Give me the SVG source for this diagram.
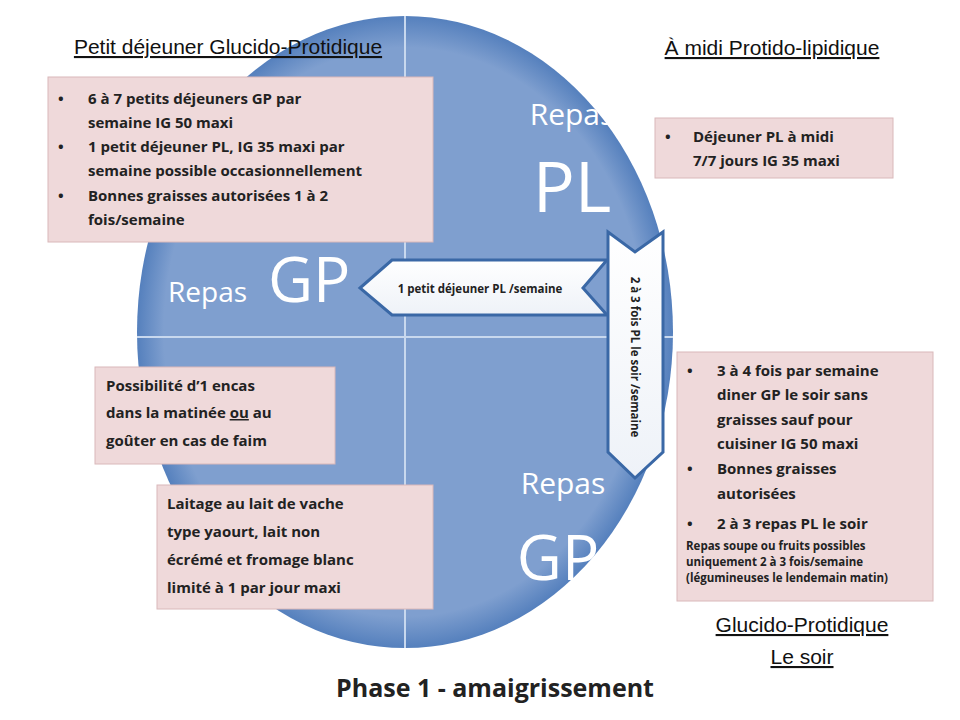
<svg xmlns="http://www.w3.org/2000/svg" width="960" height="720" viewBox="0 0 960 720">
<defs>
<radialGradient id="cg" cx="0.5" cy="0.5" r="0.5">
<stop offset="0" stop-color="#7f9fcf"/><stop offset="0.9" stop-color="#7f9fcf"/><stop offset="1" stop-color="#5580bd"/>
</radialGradient>
<linearGradient id="ag" x1="0" y1="0" x2="0" y2="1"><stop offset="0" stop-color="#ffffff"/><stop offset="1" stop-color="#eef2f8"/></linearGradient>
<style>
.box{fill:#efd9da;stroke:#d9b8ba;stroke-width:1}
.t{font-family:"Open Sans","Liberation Sans",sans-serif;font-weight:bold;fill:#222;font-size:15px}
.s{font-family:"Open Sans","Liberation Sans",sans-serif;font-weight:bold;fill:#222;font-size:11.5px}
.big{font-family:"Open Sans","Liberation Sans",sans-serif;fill:#fff}
.h{font-family:"Liberation Sans",sans-serif;font-size:21px;fill:#111;text-decoration:underline}
.arr{fill:url(#ag);stroke:#3a68a6;stroke-width:3}
</style>
</defs>
<rect width="960" height="720" fill="#fff"/>
<g id="circle">
<ellipse cx="405" cy="332" rx="268" ry="316" fill="url(#cg)"/>
<line x1="405" y1="16" x2="405" y2="648" stroke="#c8d8ee" stroke-width="2"/>
<line x1="137" y1="337" x2="673" y2="337" stroke="#c8d8ee" stroke-width="2"/>
</g>
<g id="titles">
<text class="h" x="228" y="54" text-anchor="middle">Petit déjeuner Glucido-Protidique</text>
<text class="h" x="772" y="55" text-anchor="middle">À midi Protido-lipidique</text>
<text class="h" x="802" y="632" text-anchor="middle">Glucido-Protidique</text>
<text class="h" x="802" y="664" text-anchor="middle">Le soir</text>
<text x="495" y="697" text-anchor="middle" font-family="'Open Sans','Liberation Sans',sans-serif" font-weight="bold" font-size="25" fill="#222">Phase 1 - amaigrissement</text>
</g>
<g id="box1">
<rect class="box" x="48" y="77" width="385" height="165"/>
<text class="t"><tspan x="58" y="104">•</tspan><tspan x="88" y="104">6 à 7 petits déjeuners  GP par</tspan><tspan x="88" y="128">semaine IG 50 maxi</tspan><tspan x="58" y="152">•</tspan><tspan x="88" y="152">1 petit déjeuner PL, IG 35 maxi par</tspan><tspan x="88" y="176">semaine possible occasionnellement</tspan><tspan x="58" y="201">•</tspan><tspan x="88" y="201">Bonnes graisses autorisées 1 à 2</tspan><tspan x="88" y="225">fois/semaine</tspan></text>
</g>
<g id="box2">
<rect class="box" x="655" y="118" width="238" height="60"/>
<text class="t"><tspan x="665" y="142">•</tspan><tspan x="693" y="142">Déjeuner  PL à midi</tspan><tspan x="693" y="166">7/7 jours  IG 35 maxi</tspan></text>
</g>
<g id="box3">
<rect class="box" x="677" y="352" width="256" height="249"/>
<text class="t"><tspan x="687" y="376">•</tspan><tspan x="717" y="376">3 à 4 fois par semaine</tspan><tspan x="717" y="400">diner GP le soir sans</tspan><tspan x="717" y="425">graisses sauf pour</tspan><tspan x="717" y="449">cuisiner IG 50 maxi</tspan><tspan x="687" y="474">•</tspan><tspan x="717" y="474">Bonnes graisses</tspan><tspan x="717" y="499">autorisées</tspan><tspan x="687" y="529">•</tspan><tspan x="717" y="529">2 à 3 repas PL le soir</tspan></text>
<text class="s"><tspan x="686" y="550">Repas soupe ou fruits possibles</tspan><tspan x="686" y="566">uniquement 2 à 3  fois/semaine</tspan><tspan x="686" y="582">(légumineuses le lendemain matin)</tspan></text>
</g>
<g id="box4">
<rect class="box" x="95" y="367" width="240" height="97"/>
<text class="t" font-size="17.5"><tspan x="106" y="391">Possibilité d’1 encas</tspan><tspan x="106" y="418">dans la matinée <tspan text-decoration="underline">ou</tspan> au</tspan><tspan x="106" y="446">goûter en cas de faim</tspan></text>
</g>
<g id="box5">
<rect class="box" x="157" y="485" width="276" height="124"/>
<text class="t" font-size="17.5"><tspan x="167" y="509">Laitage au lait de vache</tspan><tspan x="167" y="537">type yaourt, lait non</tspan><tspan x="167" y="565">écrémé et fromage blanc</tspan><tspan x="167" y="593">limité à 1 par jour maxi</tspan></text>
</g>
<g id="labels">
<text class="big" x="572" y="125" font-size="30" text-anchor="middle">Repas</text>
<text class="big" x="572" y="212" font-size="70" text-anchor="middle">PL</text>
<text class="big" x="168" y="302" font-size="28">Repas</text>
<text class="big" x="268" y="302" font-size="62">GP</text>
<text class="big" x="563" y="494" font-size="30" text-anchor="middle">Repas</text>
<text class="big" x="558" y="580" font-size="62" text-anchor="middle">GP</text>
</g>
<g id="connectors">
<path class="arr" d="M360,288 L392,260 L607,260 L583,288 L607,315 L392,315 Z"/>
<text x="480" y="293" text-anchor="middle" font-family="'Open Sans','Liberation Sans',sans-serif" font-weight="bold" font-size="11.5" fill="#222">1 petit déjeuner PL /semaine</text>
<path class="arr" d="M608,232 L635,252 L663,232 L663,452 L635,478 L608,452 Z"/>
<text transform="translate(631,357) rotate(90)" text-anchor="middle" font-family="'Open Sans','Liberation Sans',sans-serif" font-weight="bold" font-size="11.5" fill="#222">2 à 3  fois PL le soir /semaine</text>
</g>
</svg>
